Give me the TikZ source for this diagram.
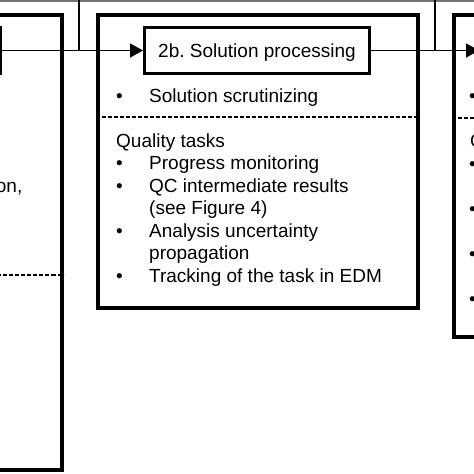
\documentclass[tikz,border=0pt]{standalone}
\usepackage{fontspec}
\setmainfont{Liberation Sans}
\usetikzlibrary{arrows.meta}
\frenchspacing

\begin{document}
\begin{tikzpicture}[x=1pt,y=-1pt,
    kasten/.style={
      rectangle,
      draw,
      line width=4pt,
      inner sep=0pt},
    schritt/.style={
      rectangle,
      draw,
      line width=3pt,
      minimum width=225pt,
      minimum height=46pt,
      text height=13.6pt,
      text depth=0pt,
      font=\fontsize{19pt}{22pt}\selectfont},
    zeile/.style={
      anchor=base west,
      inner sep=0pt,
      font=\fontsize{19pt}{22pt}\selectfont},
    trenner/.style={dash pattern=on 4pt off 2pt, line width=1.2pt},
    linie/.style={line width=1.3pt},
    pfeil/.style={-{Triangle[length=13pt,width=14pt]}, line width=1.3pt}
    ]

  \useasboundingbox (0,0) rectangle (474,474);
  \clip (0,0) rectangle (474,474);

  \coordinate (randL) at (0,1);
  \coordinate (randR) at (474,1);
  \draw [black!55, line width=2.5pt] (randL) -- (randR);

  \node at (-98.5,242.5) (kasten1) [kasten, minimum width=320pt, minimum height=455pt] {};
  \node at (257.5,161) (kasten2) [kasten, minimum width=320pt, minimum height=293pt] {};
  \node at (614,176) (kasten3) [kasten, minimum width=320pt, minimum height=322pt] {};

  \node at (-112,50.5) (schritt1) [schritt] {};
  \node at (257,50.5) (schritt2) [schritt] {2b. Solution processing};
  \node at (593,50.5) (schritt3) [schritt] {};

  \draw [pfeil] (schritt1) -- (schritt2);
  \draw [pfeil] (schritt2) -- (schritt3);

  \coordinate (oben1) at (79,0);
  \coordinate (oben2) at (435,0);
  \draw [linie] (oben1) -- (oben1 |- schritt1.east);
  \draw [linie] (oben2) -- (oben2 |- schritt2.east);

  \draw [trenner] (kasten1.west |- 0,275) -- (kasten1.east |- 0,275);
  \draw [trenner] (kasten2.west |- 0,117) -- (kasten2.east |- 0,117);
  \draw [trenner] (kasten3.west |- 0,118) -- (kasten3.east |- 0,118);

  \node [zeile, anchor=base east] at (22.5,192) (links1) {on,};

  \node [zeile] at (149,102)   (mitte1) {Solution scrutinizing};
  \node [zeile] at (116,147)   (mitte2) {Quality tasks};
  \node [zeile] at (149,169.5) (mitte3) {Progress monitoring};
  \node [zeile] at (149,192)   (mitte4) {QC intermediate results};
  \node [zeile] at (149,214.5) (mitte5) {(see Figure 4)};
  \node [zeile] at (149,237)   (mitte6) {Analysis uncertainty};
  \node [zeile] at (149,259.5) (mitte7) {propagation};
  \node [zeile] at (149,282)   (mitte8) {Tracking of the task in EDM};
  \foreach \y in {102,169.5,192,237,282}
    \node [zeile] at (116,\y) {•};

  \node [zeile] at (470,147) (rechts1) {Q};
  \foreach \y in {102,170,215,260,305}
    \node [zeile] at (469,\y) {•};

\end{tikzpicture}
\end{document}
